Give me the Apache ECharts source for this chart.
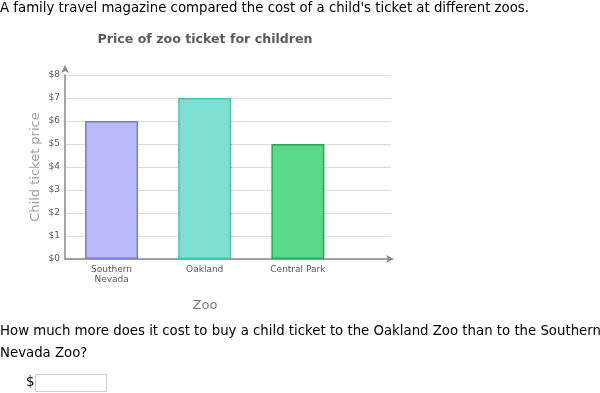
<!DOCTYPE html>
<html><head><meta charset="utf-8">
<script src="https://cdn.jsdelivr.net/npm/echarts@6/dist/echarts.min.js"></script>
<style>
html,body{margin:0;padding:0;background:#fff;width:600px;height:393px;overflow:hidden;font-family:"DejaVu Sans",Verdana,sans-serif;}
#chart{position:absolute;left:0;top:0;width:600px;height:393px;}
.t{position:absolute;font-size:13.3px;color:#000;white-space:nowrap;}
#box{position:absolute;left:35px;top:374px;width:70px;height:16px;border:1px solid #ccc;background:#fff;}
</style></head>
<body>
<div id="chart"></div>
<div class="t" style="left:0;top:0px;">A family travel magazine compared the cost of a child's ticket at different zoos.</div>
<div class="t" style="left:0;top:323px;">How much more does it cost to buy a child ticket to the Oakland Zoo than to the Southern</div>
<div class="t" style="left:0;top:345px;">Nevada Zoo?</div>
<div class="t" style="left:26px;top:374px;">$</div>
<div id="box"></div>
<script>
const categories = ["Southern\nNevada", "Oakland", "Central Park"];
const prices = [6, 7, 5];
const yTicks = ["$0","$1","$2","$3","$4","$5","$6","$7","$8"];
const fills = ["#b9b9f7", "#7fdfd0", "#5ad98a"];
const borders = ["#7a7ad6", "#52bfb2", "#2ea356"];

const chart = echarts.init(document.getElementById('chart'));
chart.setOption({
  animation: false,
  title: [{
    text: 'Price of zoo ticket for children',
    left: 200, top: 28, textAlign: 'center',
    textStyle: {fontFamily: 'DejaVu Sans', fontSize: 12.6, fontWeight: 'bold', color: '#5a5a5a'}
  }, {
    text: 'Zoo',
    left: 200, top: 294, textAlign: 'center',
    textStyle: {fontFamily: 'DejaVu Sans', fontSize: 13, fontWeight: 'normal', color: '#777'}
  }],
  grid: {left: 65, top: 75, width: 326, height: 184, containLabel: false},
  xAxis: {
    type: 'value', min: 0, max: 3.5, interval: 0.5,
    axisLine: {show: true, lineStyle: {color: '#888', width: 1.5}, symbol: ['none', 'arrow'], symbolSize: [6, 8], symbolOffset: [0, 3]},
    axisTick: {show: false},
    splitLine: {show: false},
    axisLabel: {
      fontFamily: 'DejaVu Sans', fontSize: 9, color: '#555', lineHeight: 10, margin: 6,
      formatter: function (v) {
        const i = Math.round(v - 0.5);
        return (Math.abs(v - 0.5 - i) < 1e-6 && i >= 0 && i < categories.length) ? categories[i] : '';
      }
    }
  },
  yAxis: {
    type: 'value', min: 0, max: 8, interval: 1,
    name: 'Child ticket price', nameLocation: 'middle', nameGap: 23, nameRotate: 90,
    nameMoveOverlap: false,
    nameTextStyle: {fontFamily: 'DejaVu Sans', fontSize: 13, color: '#a0a0a0'},
    axisLine: {show: true, lineStyle: {color: '#888', width: 1.5}, symbol: ['none', 'arrow'], symbolSize: [6, 8], symbolOffset: [0, 10]},
    axisTick: {show: false},
    splitLine: {show: true, lineStyle: {color: '#dcdcdc', width: 1}},
    axisLabel: {fontFamily: 'DejaVu Sans', fontSize: 9, color: '#555', margin: 5,
      formatter: function (v) { return yTicks[v]; }}
  },
  series: [{
    type: 'bar',
    barWidth: 53,
    data: prices.map(function (p, i) {
      return {value: [i + 0.5, p], itemStyle: {color: fills[i], borderColor: borders[i], borderWidth: 1.5}};
    })
  }]
});
</script>
</body></html>
